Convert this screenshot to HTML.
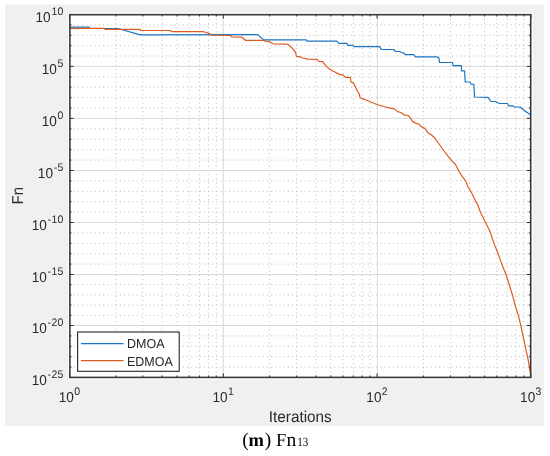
<!DOCTYPE html>
<html><head><meta charset="utf-8"><title>Fn13</title>
<style>
html,body{margin:0;padding:0;background:#fff;width:550px;height:456px;overflow:hidden}
svg{display:block}
.mn{stroke:#bcbcbc;stroke-width:1;stroke-dasharray:1 3.2;fill:none}
.mj{stroke:#d9d9d9;stroke-width:1;fill:none}
text{font-family:"Liberation Sans",Arial,sans-serif;fill:#2a2a2a;text-rendering:geometricPrecision}
.tl{font-size:13.6px}
.sp{font-size:10.5px;letter-spacing:0.3px}
.al{font-size:15px}
.lg{font-size:12.5px;fill:#262626}
.cap{font-family:"Liberation Serif","Times New Roman",serif;font-size:18.5px;fill:#000}
</style></head><body>
<svg width="550" height="456" viewBox="0 0 550 456">
<rect x="5" y="4.5" width="539" height="421.3" fill="#f0f0f0"/>
<rect x="67.9" y="12.7" width="465.2" height="367" fill="#fbfbfb"/>
<rect x="69.5" y="14.5" width="461.4" height="363" fill="#fff"/>
<g>
<line x1="115.8" y1="14.5" x2="115.8" y2="377.5" class="mn"/>
<line x1="142.88" y1="14.5" x2="142.88" y2="377.5" class="mn"/>
<line x1="162.1" y1="14.5" x2="162.1" y2="377.5" class="mn"/>
<line x1="177" y1="14.5" x2="177" y2="377.5" class="mn"/>
<line x1="189.18" y1="14.5" x2="189.18" y2="377.5" class="mn"/>
<line x1="199.48" y1="14.5" x2="199.48" y2="377.5" class="mn"/>
<line x1="208.4" y1="14.5" x2="208.4" y2="377.5" class="mn"/>
<line x1="216.26" y1="14.5" x2="216.26" y2="377.5" class="mn"/>
<line x1="269.6" y1="14.5" x2="269.6" y2="377.5" class="mn"/>
<line x1="296.68" y1="14.5" x2="296.68" y2="377.5" class="mn"/>
<line x1="315.9" y1="14.5" x2="315.9" y2="377.5" class="mn"/>
<line x1="330.8" y1="14.5" x2="330.8" y2="377.5" class="mn"/>
<line x1="342.98" y1="14.5" x2="342.98" y2="377.5" class="mn"/>
<line x1="353.28" y1="14.5" x2="353.28" y2="377.5" class="mn"/>
<line x1="362.2" y1="14.5" x2="362.2" y2="377.5" class="mn"/>
<line x1="370.06" y1="14.5" x2="370.06" y2="377.5" class="mn"/>
<line x1="423.4" y1="14.5" x2="423.4" y2="377.5" class="mn"/>
<line x1="450.48" y1="14.5" x2="450.48" y2="377.5" class="mn"/>
<line x1="469.7" y1="14.5" x2="469.7" y2="377.5" class="mn"/>
<line x1="484.6" y1="14.5" x2="484.6" y2="377.5" class="mn"/>
<line x1="496.78" y1="14.5" x2="496.78" y2="377.5" class="mn"/>
<line x1="507.08" y1="14.5" x2="507.08" y2="377.5" class="mn"/>
<line x1="516" y1="14.5" x2="516" y2="377.5" class="mn"/>
<line x1="523.86" y1="14.5" x2="523.86" y2="377.5" class="mn"/>
<line x1="69.5" y1="367.1" x2="530.9" y2="367.1" class="mn"/>
<line x1="69.5" y1="356.7" x2="530.9" y2="356.7" class="mn"/>
<line x1="69.5" y1="346.3" x2="530.9" y2="346.3" class="mn"/>
<line x1="69.5" y1="335.9" x2="530.9" y2="335.9" class="mn"/>
<line x1="69.5" y1="315.3" x2="530.9" y2="315.3" class="mn"/>
<line x1="69.5" y1="305.1" x2="530.9" y2="305.1" class="mn"/>
<line x1="69.5" y1="294.9" x2="530.9" y2="294.9" class="mn"/>
<line x1="69.5" y1="284.7" x2="530.9" y2="284.7" class="mn"/>
<line x1="69.5" y1="264.1" x2="530.9" y2="264.1" class="mn"/>
<line x1="69.5" y1="253.7" x2="530.9" y2="253.7" class="mn"/>
<line x1="69.5" y1="243.3" x2="530.9" y2="243.3" class="mn"/>
<line x1="69.5" y1="232.9" x2="530.9" y2="232.9" class="mn"/>
<line x1="69.5" y1="212.1" x2="530.9" y2="212.1" class="mn"/>
<line x1="69.5" y1="201.7" x2="530.9" y2="201.7" class="mn"/>
<line x1="69.5" y1="191.3" x2="530.9" y2="191.3" class="mn"/>
<line x1="69.5" y1="180.9" x2="530.9" y2="180.9" class="mn"/>
<line x1="69.5" y1="160.08" x2="530.9" y2="160.08" class="mn"/>
<line x1="69.5" y1="149.66" x2="530.9" y2="149.66" class="mn"/>
<line x1="69.5" y1="139.24" x2="530.9" y2="139.24" class="mn"/>
<line x1="69.5" y1="128.82" x2="530.9" y2="128.82" class="mn"/>
<line x1="69.5" y1="108" x2="530.9" y2="108" class="mn"/>
<line x1="69.5" y1="97.6" x2="530.9" y2="97.6" class="mn"/>
<line x1="69.5" y1="87.2" x2="530.9" y2="87.2" class="mn"/>
<line x1="69.5" y1="76.8" x2="530.9" y2="76.8" class="mn"/>
<line x1="69.5" y1="56.02" x2="530.9" y2="56.02" class="mn"/>
<line x1="69.5" y1="45.64" x2="530.9" y2="45.64" class="mn"/>
<line x1="69.5" y1="35.26" x2="530.9" y2="35.26" class="mn"/>
<line x1="69.5" y1="24.88" x2="530.9" y2="24.88" class="mn"/>
<line x1="223.3" y1="14.5" x2="223.3" y2="377.5" class="mj"/>
<line x1="377.4" y1="14.5" x2="377.4" y2="377.5" class="mj"/>
<line x1="69.5" y1="325.5" x2="530.9" y2="325.5" class="mj"/>
<line x1="69.5" y1="274.5" x2="530.9" y2="274.5" class="mj"/>
<line x1="69.5" y1="222.5" x2="530.9" y2="222.5" class="mj"/>
<line x1="69.5" y1="170.5" x2="530.9" y2="170.5" class="mj"/>
<line x1="69.5" y1="118.4" x2="530.9" y2="118.4" class="mj"/>
<line x1="69.5" y1="66.4" x2="530.9" y2="66.4" class="mj"/>
</g>
<polyline points="69.5,27.1 89.4,27.1 89.8,28.5 118,28.5 140.3,34.8 257.7,34.6 263.5,39.9 306.3,39.9 307,41.2 336.8,41.2 338.9,43.4 346.9,43.4 348,45.3 352.9,45.3 354,46.6 379.6,46.6 381.3,49.4 393.7,49.5 395.4,51.5 399.7,51.5 401.4,52.5 404.1,53.3 405.2,54.7 413.9,54.7 415.5,56.9 437.3,56.9 439,58 439.5,62.5 452.5,62.5 453.1,65.6 461.3,65.6 461.6,70.9 464.6,70.9 465.2,81.9 470.1,82 471.2,84.2 473.9,84.3 474.5,97 488,97.3 491,101.5 495.5,101.5 499.5,103.5 507.5,103.5 508.5,105.8 513,105.8 514,106.8 520,107 523,109.5 530,114.5 530.9,116.5" fill="none" stroke="#1a76c3" stroke-width="1.2" stroke-linejoin="round"/>
<polyline points="69.5,28.4 104.5,28.4 104.9,29.4 140.3,29.4 140.8,30.5 170.6,30.5 171.6,31.6 203.1,31.6 206,32.5 209.6,33.6 211.8,35.2 225,35.5 230.8,35.7 232,37 242,37.2 245.4,40.3 263.5,40.3 265,41.1 268.6,41.4 270,42.1 273.2,44 286.5,44.2 288.3,44.6 290.4,46.5 293.2,49.3 295.4,52 296.5,56.4 300.3,56.9 302.4,58 307.9,59.1 317.2,59.4 318.8,61.3 322.6,61.6 325.3,65.1 328.6,68.4 331.9,70.5 335.2,72.2 339.5,74.4 343.3,75.2 345.5,77.4 350.4,77.4 350.9,81.8 353.6,83.1 355.3,86.4 357.4,91.3 359.1,93.4 360.2,97.8 362.4,98.6 366.2,100 372.7,102.7 377.6,104.7 383.6,106.5 390.2,108.2 394.4,108.9 397.6,111.6 400.9,112.5 404.2,114.9 408,115.5 410.2,117.6 412.4,121.4 415.6,123.1 418.9,124.2 421.1,126.4 424.9,128.5 427.6,132.4 430.9,134.5 434.7,137.8 438.4,143 443.6,150.5 448.2,156.4 451.4,160.4 455.4,164.3 458.7,170.9 462,176.2 465.9,181.4 467.9,186.7 471.2,191.9 475.3,200.6 477.9,205.2 480.5,212.4 483.2,217.7 485.8,222.9 489.1,229.5 491,234.1 492.4,238.7 495,245.9 497.3,251.5 500.3,259.9 502.9,267.1 506.2,275 509.5,285.5 512.8,296.1 514.9,304.4 516.4,309.5 518.2,314.9 520.7,324.8 523.1,336.3 525.6,347.9 528.1,359.4 529.7,369.3 530.6,374" fill="none" stroke="#dd5c22" stroke-width="1.2" stroke-linejoin="round"/>
<path d="M69.5 377.5v-4.0M69.5 14.5v4.0M115.8 377.5v-2.0M115.8 14.5v2.0M142.88 377.5v-2.0M142.88 14.5v2.0M162.1 377.5v-2.0M162.1 14.5v2.0M177 377.5v-2.0M177 14.5v2.0M189.18 377.5v-2.0M189.18 14.5v2.0M199.48 377.5v-2.0M199.48 14.5v2.0M208.4 377.5v-2.0M208.4 14.5v2.0M216.26 377.5v-2.0M216.26 14.5v2.0M223.3 377.5v-4.0M223.3 14.5v4.0M269.6 377.5v-2.0M269.6 14.5v2.0M296.68 377.5v-2.0M296.68 14.5v2.0M315.9 377.5v-2.0M315.9 14.5v2.0M330.8 377.5v-2.0M330.8 14.5v2.0M342.98 377.5v-2.0M342.98 14.5v2.0M353.28 377.5v-2.0M353.28 14.5v2.0M362.2 377.5v-2.0M362.2 14.5v2.0M370.06 377.5v-2.0M370.06 14.5v2.0M377.1 377.5v-4.0M377.1 14.5v4.0M423.4 377.5v-2.0M423.4 14.5v2.0M450.48 377.5v-2.0M450.48 14.5v2.0M469.7 377.5v-2.0M469.7 14.5v2.0M484.6 377.5v-2.0M484.6 14.5v2.0M496.78 377.5v-2.0M496.78 14.5v2.0M507.08 377.5v-2.0M507.08 14.5v2.0M516 377.5v-2.0M516 14.5v2.0M523.86 377.5v-2.0M523.86 14.5v2.0M530.9 377.5v-4.0M530.9 14.5v4.0M69.5 377.5h4.0M530.9 377.5h-4.0M69.5 367.1h2.0M530.9 367.1h-2.0M69.5 356.7h2.0M530.9 356.7h-2.0M69.5 346.3h2.0M530.9 346.3h-2.0M69.5 335.9h2.0M530.9 335.9h-2.0M69.5 325.5h4.0M530.9 325.5h-4.0M69.5 315.3h2.0M530.9 315.3h-2.0M69.5 305.1h2.0M530.9 305.1h-2.0M69.5 294.9h2.0M530.9 294.9h-2.0M69.5 284.7h2.0M530.9 284.7h-2.0M69.5 274.5h4.0M530.9 274.5h-4.0M69.5 264.1h2.0M530.9 264.1h-2.0M69.5 253.7h2.0M530.9 253.7h-2.0M69.5 243.3h2.0M530.9 243.3h-2.0M69.5 232.9h2.0M530.9 232.9h-2.0M69.5 222.5h4.0M530.9 222.5h-4.0M69.5 212.1h2.0M530.9 212.1h-2.0M69.5 201.7h2.0M530.9 201.7h-2.0M69.5 191.3h2.0M530.9 191.3h-2.0M69.5 180.9h2.0M530.9 180.9h-2.0M69.5 170.5h4.0M530.9 170.5h-4.0M69.5 160.08h2.0M530.9 160.08h-2.0M69.5 149.66h2.0M530.9 149.66h-2.0M69.5 139.24h2.0M530.9 139.24h-2.0M69.5 128.82h2.0M530.9 128.82h-2.0M69.5 118.4h4.0M530.9 118.4h-4.0M69.5 108h2.0M530.9 108h-2.0M69.5 97.6h2.0M530.9 97.6h-2.0M69.5 87.2h2.0M530.9 87.2h-2.0M69.5 76.8h2.0M530.9 76.8h-2.0M69.5 66.4h4.0M530.9 66.4h-4.0M69.5 56.02h2.0M530.9 56.02h-2.0M69.5 45.64h2.0M530.9 45.64h-2.0M69.5 35.26h2.0M530.9 35.26h-2.0M69.5 24.88h2.0M530.9 24.88h-2.0M69.5 14.5h4.0M530.9 14.5h-4.0" stroke="#262626" stroke-width="1" fill="none"/>
<rect x="69.9" y="14.7" width="460.8" height="362.7" fill="none" stroke="#3a3a3a" stroke-width="1.6"/>
<rect x="77.6" y="332" width="101.6" height="39.3" fill="#fff" stroke="#262626" stroke-width="1.1"/>
<line x1="80.9" y1="343.6" x2="123.5" y2="343.6" stroke="#1a76c3" stroke-width="1.4"/>
<line x1="80.9" y1="360.6" x2="123.5" y2="360.6" stroke="#dd5c22" stroke-width="1.4"/>
<text transform="translate(127,348.1) scale(1,1.045)" class="lg">DMOA</text>
<text transform="translate(127,366.1) scale(1,1.045)" class="lg">EDMOA</text>
<text transform="translate(63.7,384.6) scale(1,1.045)" text-anchor="end" class="tl">10<tspan class="sp" dx="0.8" dy="-6.6">-25</tspan></text>
<text transform="translate(63.7,332.6) scale(1,1.045)" text-anchor="end" class="tl">10<tspan class="sp" dx="0.8" dy="-6.6">-20</tspan></text>
<text transform="translate(63.7,281.6) scale(1,1.045)" text-anchor="end" class="tl">10<tspan class="sp" dx="0.8" dy="-6.6">-15</tspan></text>
<text transform="translate(63.7,229.6) scale(1,1.045)" text-anchor="end" class="tl">10<tspan class="sp" dx="0.8" dy="-6.6">-10</tspan></text>
<text transform="translate(63.7,177.6) scale(1,1.045)" text-anchor="end" class="tl">10<tspan class="sp" dx="0.8" dy="-6.6">-5</tspan></text>
<text transform="translate(63.7,125.5) scale(1,1.045)" text-anchor="end" class="tl">10<tspan class="sp" dx="0.8" dy="-6.6">0</tspan></text>
<text transform="translate(63.7,73.5) scale(1,1.045)" text-anchor="end" class="tl">10<tspan class="sp" dx="0.8" dy="-6.6">5</tspan></text>
<text transform="translate(63.7,21.6) scale(1,1.045)" text-anchor="end" class="tl">10<tspan class="sp" dx="0.8" dy="-6.6">10</tspan></text>
<text transform="translate(69.5,401.9) scale(1,1.045)" text-anchor="middle" class="tl">10<tspan class="sp" dx="0.3" dy="-6.5">0</tspan></text>
<text transform="translate(223.3,401.9) scale(1,1.045)" text-anchor="middle" class="tl">10<tspan class="sp" dx="0.3" dy="-6.5">1</tspan></text>
<text transform="translate(377.1,401.9) scale(1,1.045)" text-anchor="middle" class="tl">10<tspan class="sp" dx="0.3" dy="-6.5">2</tspan></text>
<text transform="translate(530.9,401.9) scale(1,1.045)" text-anchor="middle" class="tl">10<tspan class="sp" dx="0.3" dy="-6.5">3</tspan></text>
<text transform="translate(268.8,422.4) scale(1,1.03)" class="al" style="font-size:15.3px">Iterations</text>
<text transform="translate(22.7,204.5) rotate(-90) scale(1,1.05)" class="al">Fn</text>
<text y="445.8" class="cap"><tspan x="242.3" font-size="19.5px">(</tspan><tspan x="248.5" font-weight="bold">m</tspan><tspan x="264.8" font-size="19.5px">)</tspan> <tspan x="276">F</tspan><tspan x="286.6" font-size="19.6px">n</tspan><tspan x="297.2" y="446.4" font-size="12.6px" textLength="11" lengthAdjust="spacingAndGlyphs">13</tspan></text>
</svg>
</body></html>
